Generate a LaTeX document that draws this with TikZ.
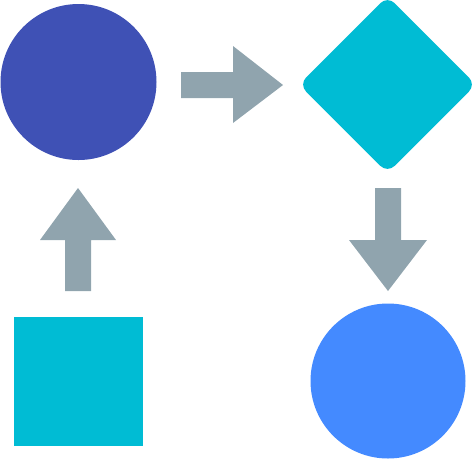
\documentclass[tikz,border=0pt]{standalone}
\usetikzlibrary{shapes.geometric}
\definecolor{indigo}{HTML}{3F51B5}
\definecolor{aqua}{HTML}{00BCD4}
\definecolor{bluegrey}{HTML}{90A4AE}
\definecolor{lightblue}{HTML}{448AFF}
\tikzset{
  form/.style={inner sep=0pt, outer sep=0pt, draw=none},
  blockarrow/.style={fill=bluegrey}
}
\begin{document}
\begin{tikzpicture}[x=1pt,y=-1pt]
  \useasboundingbox (0,0) rectangle (474,459);
  % les formes
  \node[form, circle, fill=indigo, minimum size=156pt] (start) at (78.5,82) {};
  \node[form, diamond, fill=aqua, rounded corners=10pt, minimum size=177pt] (test) at (387.5,84.5) {};
  \node[form, rectangle, fill=aqua, minimum size=129pt] (box) at (78,381.5) {};
  \node[form, circle, fill=lightblue, minimum size=155pt] (finish) at (388,381) {};
  % fleches
  \fill[blockarrow] % vers la droite
     (181,72) -- (233,72) -- (233,46) -- (283,85) -- (233,123) -- (233,98) -- (181,98) -- cycle;
  \fill[blockarrow] % vers le bas
     (375,188) -- (401,188) -- (401,240) -- (427,240) -- (388,291) -- (349,240) -- (375,240) -- cycle;
  \fill[blockarrow] % vers le haut
     (65,291) -- (91,291) -- (91,240) -- (116,240) -- (78,188) -- (40,240) -- (65,240) -- cycle;
\end{tikzpicture}
\end{document}
